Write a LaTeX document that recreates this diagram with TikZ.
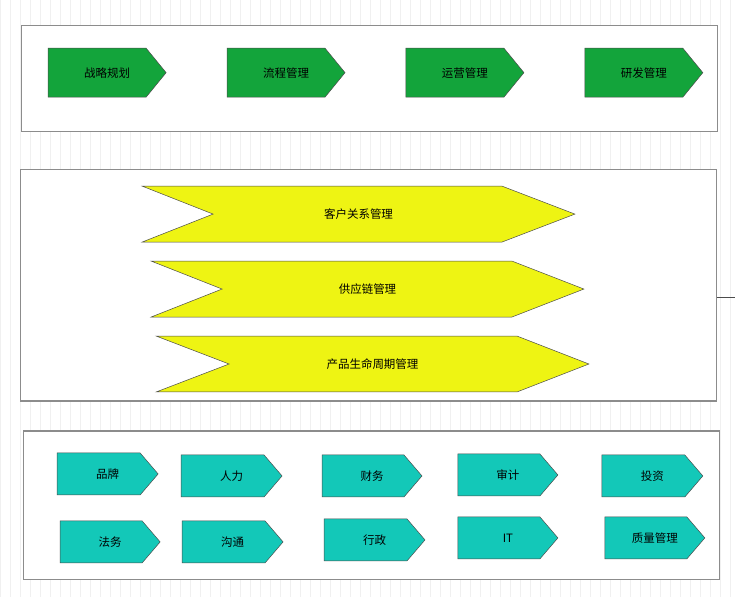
\documentclass[tikz,border=0pt]{standalone}
\usepackage{fontspec}
\setmainfont{Noto Sans CJK SC}
\begin{document}
\begin{tikzpicture}[x=1pt,y=-1pt,
  frame/.style={draw=black!45,line width=1.2pt,fill=white},
  shp/.style={draw=black!70,line width=0.5pt},
  lbl/.style={font=\fontsize{11.5}{13}\selectfont,inner sep=0pt}]
\fill[white] (0,0) rectangle (735,597);
\draw[black!6,line width=0.4pt] (0,0) grid[step=10] (735,597);
\useasboundingbox (0,0) rectangle (735,597);
\definecolor{g}{HTML}{13A43B}\definecolor{yl}{HTML}{EEF413}\definecolor{tl}{HTML}{13C8B8}
% pentagon macro: x1,y1,x2,y2,bodyend,color,text,name
\newcommand\penta[8]{\draw[shp,fill=#6] (#1,#2) -- (#5,#2) -- (#3,{(#2+#4)/2}) -- (#5,#4) -- (#1,#4) -- cycle;
  \node[lbl] (#8) at ({(#1+#3)/2},{(#2+#4)/2}) {#7};}
\newcommand\chev[8]{\draw[shp,fill=yl] (#1,#2) -- (#6,#2) -- (#3,{(#2+#4)/2}) -- (#6,#4) -- (#1,#4) -- (#5,{(#2+#4)/2}) -- cycle;
  \node[lbl] (#8) at ({(#1+#3)/2},{(#2+#4)/2}) {#7};}
\draw[frame] (21,25) rectangle (718,131);
\penta{48}{48}{166}{97}{146}{g}{战略规划}{a1}
\penta{227}{48}{345}{97}{325}{g}{流程管理}{a2}
\penta{406}{48}{524}{97}{504}{g}{运营管理}{a3}
\penta{585}{48}{703}{97}{683}{g}{研发管理}{a4}
\draw[frame] (20,169) rectangle (717,401);
\coordinate (r) at (735,297);
\draw[black!70,line width=0.8pt] (717,297) -- (r);
\chev{142}{186}{575}{242}{213}{502}{客户关系管理}{b1}
\chev{151}{261}{584}{317}{222}{512}{供应链管理}{b2}
\chev{156}{336}{589}{392}{229}{517}{产品生命周期管理}{b3}
\draw[frame] (23,431) rectangle (720,580);
\penta{57}{453}{158}{495}{140}{tl}{品牌}{c1}
\penta{181}{455}{282}{497}{264}{tl}{人力}{c2}
\penta{322}{455}{422}{497}{404}{tl}{财务}{c3}
\penta{458}{454}{558}{496}{540}{tl}{审计}{c4}
\penta{602}{455}{703}{497}{685}{tl}{投资}{c5}
\penta{60}{521}{160}{563}{142}{tl}{法务}{d1}
\penta{182}{521}{283}{563}{265}{tl}{沟通}{d2}
\penta{324}{519}{425}{561}{407}{tl}{行政}{d3}
\penta{458}{517}{558}{559}{540}{tl}{IT}{d4}
\penta{605}{517}{705}{559}{687}{tl}{质量管理}{d5}
\end{tikzpicture}
\end{document}
